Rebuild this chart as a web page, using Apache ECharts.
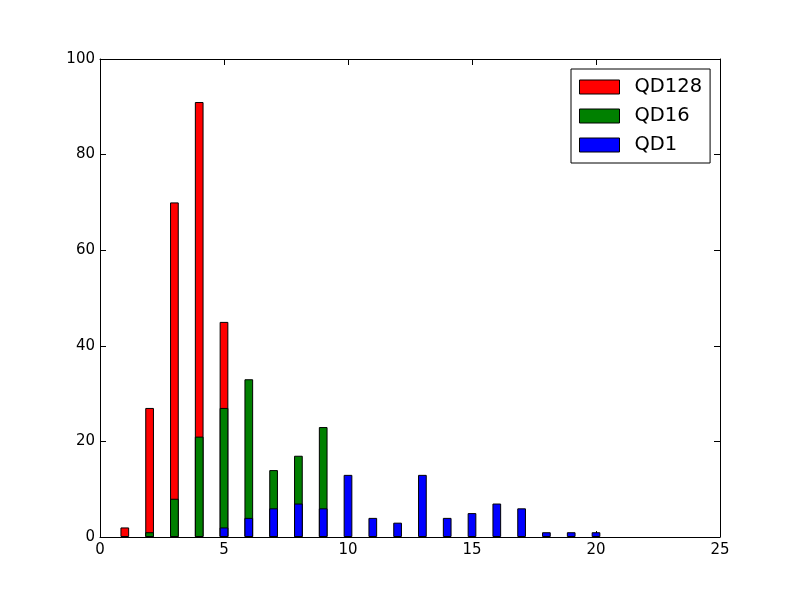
<!DOCTYPE html>
<html><head><meta charset="utf-8">
<script src="https://cdn.jsdelivr.net/npm/echarts@6/dist/echarts.min.js"></script>
<style>html,body{margin:0;padding:0;background:#fff}#c{width:800px;height:597px}</style>
</head><body><div id="c"></div>
<script>
const qd128X = [1, 2, 3, 4, 5];
const qd128Y = [2, 27, 70, 91, 45];
const qd16X = [2, 3, 4, 5, 6, 7, 8, 9];
const qd16Y = [1, 8, 21, 27, 33, 14, 17, 23];
const qd1X = [5, 6, 7, 8, 9, 10, 11, 12, 13, 14, 15, 16, 17, 18, 19, 20];
const qd1Y = [2, 4, 6, 7, 6, 13, 4, 3, 13, 4, 5, 7, 6, 1, 1, 1];
const xTicks = [0, 5, 10, 15, 20, 25];
const yTicks = [0, 20, 40, 60, 80, 100];

const pair = (xs, ys) => xs.map((x, i) => [x, ys[i]]);
const font = 'DejaVu Sans';
const chart = echarts.init(document.getElementById('c'));
const mkSeries = (name, color, data) => ({
  name, type: 'bar', data, barWidth: 8.7, barGap: '-100%',
  xAxisIndex: 0, yAxisIndex: 0,
  itemStyle: { color, borderColor: '#000', borderWidth: 1 },
  emphasis: { disabled: true }
});
const tick = () => ({ show: true, inside: true, length: 6, lineStyle: { color: '#000', width: 1 } });
const line = () => ({ show: true, onZero: false, lineStyle: { color: '#000', width: 1 } });
chart.setOption({
  animation: false,
  textStyle: { fontFamily: font },
  grid: { left: 100, right: 80, top: 59, bottom: 60, show: false },
  legend: {
    orient: 'vertical', left: 571, top: 69, padding: [8, 8, 8, 8],
    borderColor: '#000', borderWidth: 1, itemWidth: 40, itemHeight: 14, itemGap: 9,
    icon: 'rect',
    textStyle: { fontSize: 19.5, fontFamily: font, color: '#000', padding: [0, 0, 0, 10] },
    data: ['QD128', 'QD16', 'QD1'],
    itemStyle: { borderColor: '#000', borderWidth: 1 }
  },
  xAxis: [
    { type: 'value', min: 0, max: 25, interval: 5, position: 'bottom',
      axisLine: line(), axisTick: tick(),
      axisLabel: { color: '#000', fontSize: 15, fontFamily: font, margin: 6,
        formatter: v => xTicks.includes(v) ? String(v) : '' },
      splitLine: { show: false } },
    { type: 'value', min: 0, max: 25, interval: 5, position: 'top',
      axisLine: line(), axisTick: tick(),
      axisLabel: { show: false }, splitLine: { show: false } }
  ],
  yAxis: [
    { type: 'value', min: 0, max: 100, interval: 20, position: 'left',
      axisLine: line(), axisTick: tick(),
      axisLabel: { color: '#000', fontSize: 15, fontFamily: font, margin: 5,
        formatter: v => yTicks.includes(v) ? String(v) : '' },
      splitLine: { show: false } },
    { type: 'value', min: 0, max: 100, interval: 20, position: 'right',
      axisLine: line(), axisTick: tick(),
      axisLabel: { show: false }, splitLine: { show: false } }
  ],
  series: [
    mkSeries('QD128', '#ff0000', pair(qd128X, qd128Y)),
    mkSeries('QD16', '#008000', pair(qd16X, qd16Y)),
    mkSeries('QD1', '#0000ff', pair(qd1X, qd1Y))
  ]
});
</script></body></html>
